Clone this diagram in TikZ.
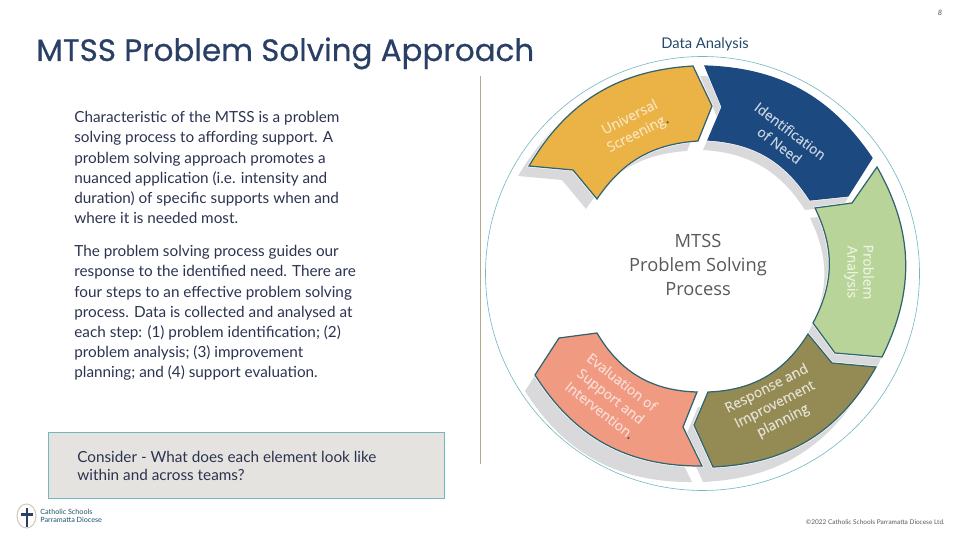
\documentclass[tikz,border=0pt]{standalone}
\usepackage{fontspec}
\setmainfont{Lato}
\newfontfamily\titlefont[FakeBold=0.5]{Poppins}
\newfontfamily\ringfont[FakeBold=0.25]{Open Sans}
\newfontfamily\centrefont{Open Sans}
\usepackage{xcolor}
\usetikzlibrary{positioning, calc, shapes.geometric}
\definecolor{navy}{HTML}{2A3F66}
\definecolor{bodyink}{HTML}{2B3350}
\definecolor{edgeteal}{HTML}{2F6470}
\definecolor{paleteal}{HTML}{72B7C2}
\definecolor{shadowgrey}{HTML}{D9D9DB}
\definecolor{boxgrey}{HTML}{E5E3DF}
\definecolor{ruletan}{HTML}{B5A98A}
\definecolor{segyellow}{HTML}{EBB246}
\definecolor{segblue}{HTML}{1C4A80}
\definecolor{seggreen}{HTML}{B8D498}
\definecolor{segolive}{HTML}{948A54}
\definecolor{segsalmon}{HTML}{F09A82}
% --- Ring segments (pixel coordinates) ---
\newcommand{\segyellowpath}{(529,166) to[bend left=28] (693,66) -- (712,106) -- (698,141)
    to[bend right=26] (597,199) -- (573,170) -- cycle}
\newcommand{\segbluepath}{(705,66) to[bend left=27] (872,158) -- (848,196) -- (810,200)
    to[bend right=27] (708,140) -- (722,107) -- cycle}
\newcommand{\seggreenpath}{(877,167) to[bend left=28] (882,357) -- (835,353) -- (813,323)
    to[bend right=27] (815,208) -- (852,203) -- cycle}
\newcommand{\segolivepath}{(876,367) to[bend left=29] (713,467) -- (694,425) -- (708,392)
    to[bend right=28] (808,334) -- (832,363) -- cycle}
\newcommand{\segsalmonpath}{(702,466) to[bend left=29] (535,375) -- (559,338) -- (597,333)
    to[bend right=29] (697,392) -- (683,427) -- cycle}
\begin{document}
\begin{tikzpicture}[
    x=0.02cm, y=-0.02cm,
    bodytext/.style={anchor=north west, inner sep=0pt, align=left, text=bodyink,
                     font=\fontsize{8.7}{11.5}\selectfont},
    seglabel/.style={align=center, inner sep=0pt,
                     font=\ringfont\fontsize{7.9}{10.2}\selectfont},
    segshadow/.style={fill=shadowgrey},
    seghalo/.style={draw=white, line width=1.4pt},
    segfill/.style={draw=edgeteal, line width=0.7pt, line join=miter},
]
\useasboundingbox (0,0) rectangle (960,540);

% --- Header ---
\node[anchor=base west, inner sep=0pt, text=navy,
      font=\titlefont\fontsize{17.6}{20}\selectfont] (title) at (36,61)
    {MTSS Problem Solving Approach};
\node[inner sep=0pt, font=\itshape\fontsize{4.2}{5}\selectfont, text=black!70] (pageno) at (940,13) {8};

% --- Left column ---
\node[bodytext] (para1) at (74,111)
    {Characteristic of the MTSS is a problem\\
     solving process to affording support. A\\
     problem solving approach promotes a\\
     nuanced application (i.e. intensity and\\
     duration) of specific supports when and\\
     where it is needed most.};
\node[bodytext] (para2) at (74,245)
    {The problem solving process guides our\\
     response to the identified need. There are\\
     four steps to an effective problem solving\\
     process. Data is collected and analysed at\\
     each step: (1) problem identification; (2)\\
     problem analysis; (3) improvement\\
     planning; and (4) support evaluation.};
\draw[draw=ruletan, line width=0.5pt] (480,76) -- (480,464);

% --- Consider box ---
\node[draw=paleteal, fill=boxgrey, line width=0.6pt, minimum width=396*0.02cm,
      minimum height=66*0.02cm, inner sep=0pt, anchor=north west] (considerbox) at (48,432) {};
\node[bodytext, font=\fontsize{8.7}{10.2}\selectfont] (considertext) at (77,451)
    {Consider - What does each element look like\\within and across teams?};

% --- Ring ---
\node[draw=paleteal, circle, line width=0.35pt, minimum size=434*0.02cm, inner sep=0pt] (ring) at (702.5,273.5) {};
\node[inner sep=0pt, text=navy!85!teal, font=\fontsize{8.4}{10}\selectfont] (ringtitle) at (705,44) {Data Analysis};

\fill[segshadow, shift={(-11,10)}] \segyellowpath;
\fill[segshadow, shift={(-5,10)}] \segbluepath;
\fill[segshadow, shift={(-5,10)}] \seggreenpath;
\fill[segshadow, shift={(-10,15)}] \segolivepath;
\fill[segshadow, shift={(-10,16)}] \segsalmonpath;

\draw[seghalo] \segyellowpath;
\draw[seghalo] \segbluepath;
\draw[seghalo] \seggreenpath;
\draw[seghalo] \segolivepath;
\draw[seghalo] \segsalmonpath;

\draw[segfill, fill=segyellow] \segyellowpath;
\draw[segfill, fill=segblue, draw=segblue] \segbluepath;
\draw[segfill, fill=seggreen] \seggreenpath;
\draw[segfill, fill=segolive] \segolivepath;
\draw[segfill, fill=segsalmon] \segsalmonpath;

% --- Segment labels ---
\node[seglabel, rotate=27, text=segyellow!35!white] (screening) at (634,126)
    {Universal\\Screening\textcolor{black!70}{.}};
\node[seglabel, rotate=-37, text=segblue!25!white] (need) at (785,138)
    {Identification\\of Need};
\node[seglabel, rotate=-90, font=\ringfont\fontsize{7.9}{9}\selectfont, text=seggreen!30!white] (analysis) at (859,272)
    {Problem\\Analysis};
\node[seglabel, rotate=27, text=segolive!25!white] (planning) at (775,405)
    {Response and\\Improvement\\planning};
\node[seglabel, rotate=-38, text=segsalmon!35!white] (evaluation) at (611,396)
    {Evaluation of\\Support and\\Intervention\textcolor{black!70}{.}};

\node[align=center, inner sep=0pt, text=black!65,
      font=\centrefont\fontsize{10.4}{13.6}\selectfont] (process) at (698,265)
    {MTSS\\Problem Solving\\Process};

% --- Footer ---
\node[draw=ruletan!60, fill=white, ellipse, line width=0.6pt, minimum width=19*0.02cm,
      minimum height=24*0.02cm, inner sep=0pt] (crest) at (26.5,516) {};
\fill[navy] (25.5,508) rectangle (28,527);
\fill[navy] (21,513) rectangle (32.5,515.5);
\node[anchor=west, inner sep=0pt, align=left, text=navy!70!teal,
      font=\fontsize{4.1}{4.6}\selectfont] (crestname) at (40,516)
    {Catholic Schools\\Parramatta Diocese};
\node[anchor=east, inner sep=0pt, text=black!65, font=\fontsize{3.7}{5}\selectfont] (copyright) at (945,522)
    {©2022 Catholic Schools Parramatta Diocese Ltd.};
\end{tikzpicture}
\end{document}
